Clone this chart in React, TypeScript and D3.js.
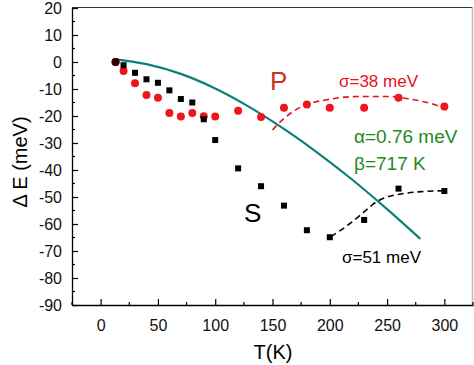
import React, { useEffect, useRef } from "react";
import * as d3 from "d3";

// measured data (T in K, ΔE in meV)
const sTemps = [13, 20, 30, 40, 50, 60, 70, 80, 90, 100, 120, 140, 160, 180, 200, 230, 260, 300];
const sValues = [0, -1.2, -4, -6.4, -7.7, -10.5, -13.7, -15, -21.2, -28.9, -39.4, -46, -53.2, -62.3, -64.9, -58.5, -46.9, -47.8];

const pTemps = [13, 20, 30, 40, 50, 60, 70, 80, 90, 100, 120, 140, 160, 180, 200, 230, 260, 300];
const pValues = [0, -3.3, -7.9, -12.2, -13.2, -18.9, -20.2, -18.9, -20.1, -20.2, -18.1, -20.4, -16.9, -15.7, -16.9, -16.9, -13.2, -16.5];

// Varshni fit curve
const fitTemps = [13, 40, 70, 100, 130, 160, 190, 220, 250, 279];
const fitValues = [1, -0.8, -4.4, -9.8, -16.7, -24.8, -33.8, -43.7, -54.5, -65.5];

// dashed guide curves
const pDashTemps = [150, 160, 170, 183, 196, 209, 224, 238, 253, 267, 282, 296, 302];
const pDashValues = [-25.2, -20.9, -17.8, -15.3, -14.1, -13.2, -12.8, -12.8, -12.8, -13.5, -14.7, -16.5, -17.8];

const sDashTemps = [201, 218, 230, 241, 250, 262, 280, 300];
const sDashValues = [-64.7, -59.7, -55.5, -51.7, -50, -48.9, -48, -47.7];

const xTicks = [0, 50, 100, 150, 200, 250, 300];
const yTicks = [20, 10, 0, -10, -20, -30, -40, -50, -60, -70, -80, -90];

const width = 474;
const height = 365;
const font = "'Liberation Sans', Arial, sans-serif";

export default function App() {
    const svgRef = useRef(null);

    useEffect(() => {
        const svg = d3.select(svgRef.current);
        svg.selectAll("*").remove();

        const x = d3.scaleLinear().domain([-25, 325]).range([72, 473]);
        const y = d3.scaleLinear().domain([-90, 20]).range([305, 8]);

        const zip = (ts, vs) => ts.map((t, i) => [t, vs[i]]);

        // frame
        svg.append("line").attr("x1", 72).attr("x2", 473).attr("y1", 7.5).attr("y2", 7.5)
            .attr("stroke", "#333").attr("stroke-width", 1.2);
        svg.append("line").attr("x1", 472.5).attr("x2", 472.5).attr("y1", 7).attr("y2", 305)
            .attr("stroke", "#bbb").attr("stroke-width", 1.5);

        // bottom axis
        const xAxis = svg.append("g").attr("transform", "translate(0,305)");
        xAxis.call(d3.axisBottom(x).tickValues(xTicks).tickSizeInner(-6).tickSizeOuter(0).tickPadding(15))
            .call(g => g.select(".domain").attr("stroke-width", 1.3));
        xAxis.selectAll(".tick line").attr("stroke-width", 1.2);
        xAxis.selectAll("text").style("font-family", font).style("font-size", "16px").attr("fill", "#111");
        xAxis.selectAll(".minor").data(d3.range(-25, 326, 50)).join("line")
            .attr("x1", d => x(d)).attr("x2", d => x(d)).attr("y1", 0).attr("y2", -3)
            .attr("stroke", "#000").attr("stroke-width", 1.2);

        // left axis (plain hyphen for negatives, like the original)
        const yAxis = svg.append("g").attr("transform", "translate(72,0)");
        yAxis.call(d3.axisLeft(y).tickValues(yTicks).tickFormat(d => String(d))
            .tickSizeInner(-6).tickSizeOuter(0).tickPadding(10))
            .call(g => g.select(".domain").attr("stroke-width", 1.3));
        yAxis.selectAll(".tick line").attr("stroke-width", 1.2);
        yAxis.selectAll("text").style("font-family", font).style("font-size", "16px").attr("fill", "#111");
        yAxis.selectAll(".minor").data(d3.range(-85, 20, 10)).join("line")
            .attr("x1", 0).attr("x2", 3).attr("y1", d => y(d)).attr("y2", d => y(d))
            .attr("stroke", "#000").attr("stroke-width", 1.2);

        // axis titles
        svg.append("text").attr("x", 273).attr("y", 359).attr("text-anchor", "middle")
            .style("font-family", font).style("font-size", "20px").text("T(K)");
        svg.append("text").attr("transform", "translate(27,162) rotate(-90)").attr("text-anchor", "middle")
            .style("font-family", font).style("font-size", "20px").text("Δ E (meV)");

        const line = d3.line().x(d => x(d[0])).y(d => y(d[1])).curve(d3.curveMonotoneX);

        // fit curve
        svg.append("path").attr("d", line(zip(fitTemps, fitValues)))
            .attr("fill", "none").attr("stroke", "#0a8078").attr("stroke-width", 2.2);

        // dashed guides
        svg.append("path").attr("d", line(zip(pDashTemps, pDashValues)))
            .attr("fill", "none").attr("stroke", "#e8101c").attr("stroke-width", 1.6).attr("stroke-dasharray", "6,4");
        svg.append("path").attr("d", line(zip(sDashTemps, sDashValues)))
            .attr("fill", "none").attr("stroke", "#000").attr("stroke-width", 1.6).attr("stroke-dasharray", "6,4");

        // P points
        svg.selectAll(".p").data(zip(pTemps, pValues)).join("circle")
            .attr("cx", d => x(d[0])).attr("cy", d => y(d[1])).attr("r", 4)
            .attr("fill", "#f0141c");

        // S points
        svg.selectAll(".s").data(zip(sTemps, sValues).slice(1)).join("rect")
            .attr("x", d => x(d[0]) - 3).attr("y", d => y(d[1]) - 3)
            .attr("width", 6).attr("height", 6).attr("fill", "#000");
        // first overlapping point drawn dark
        svg.append("circle").attr("cx", x(sTemps[0])).attr("cy", y(sValues[0])).attr("r", 4).attr("fill", "#2a0000");

        // annotations
        const label = (tx, ty, s, size, color) =>
            svg.append("text").attr("x", tx).attr("y", ty)
                .style("font-family", font).style("font-size", size + "px").attr("fill", color).text(s);
        label(270, 90, "P", 26, "#c8321e");
        label(339, 87, "σ=38 meV", 17, "#e8101c");
        label(354, 143, "α=0.76 meV", 19, "#1e8a1e");
        label(354, 170, "β=717 K", 19, "#1e8a1e");
        label(244, 222, "S", 26, "#000");
        label(342, 263, "σ=51 meV", 17, "#000");
    }, []);

    return (
        <svg ref={svgRef} width={width} height={height}
             style={{ position: "absolute", left: 0, top: 0, background: "#fff" }} />
    );
}
